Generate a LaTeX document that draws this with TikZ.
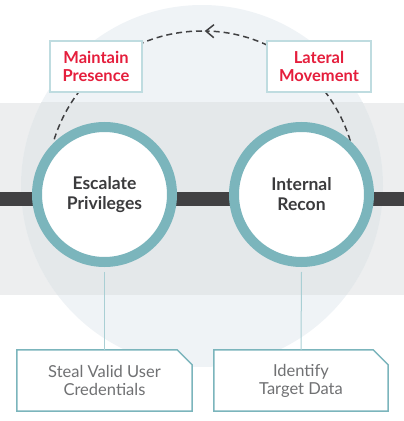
\documentclass[tikz,border=0pt]{standalone}
\usepackage{fontspec}
\setmainfont{Lato}
\usetikzlibrary{arrows.meta}

\definecolor{ringteal}{HTML}{7BB5BC}
\definecolor{haloblue}{HTML}{EFF3F6}
\definecolor{halomix}{HTML}{E4E8EA}
\definecolor{bandgray}{HTML}{EDEEEF}
\definecolor{bargray}{HTML}{414143}
\definecolor{tacticred}{HTML}{E51E3C}
\definecolor{darktext}{HTML}{3B3B3D}
\definecolor{softtext}{HTML}{707173}
\definecolor{paleedge}{HTML}{BFDCE0}
\definecolor{stemteal}{HTML}{A9CFD4}

\tikzset{
  phase/.style={circle, draw=ringteal, line width=10pt, fill=white,
    minimum size=135pt, inner sep=0pt, align=center, text=darktext,
    font=\fontsize{17.5}{20}\selectfont\bfseries},
  tactic/.style={rectangle, draw=paleedge, line width=1.2pt, fill=white,
    minimum height=51pt, inner sep=0pt, align=center, text=tacticred,
    font=\fontsize{16.5}{18}\selectfont\bfseries},
  action/.style={rectangle, minimum width=175pt, minimum height=61pt,
    inner sep=0pt, align=center, text=softtext,
    font=\fontsize{16.5}{18}\selectfont},
  tagline/.style={draw=ringteal, line width=1.5pt, fill=white, line join=miter},
  loop/.style={dash pattern=on 6pt off 4pt, line width=1.5pt, draw=bargray}
}

\begin{document}
\begin{tikzpicture}[x=1pt,y=1pt]
  \useasboundingbox (0,0) rectangle (404,421);
  \fill[bandgray] (0,126) rectangle (404,318);
  \fill[haloblue] (202,235) circle (181);
  \begin{scope}
    \clip (0,126) rectangle (404,318);
    \fill[halomix] (202,235) circle (181);
  \end{scope}
  \fill[bargray] (0,215) rectangle (404,229);

  \coordinate (hub) at (202,235);
  \draw[loop, -{Straight Barb[length=8pt,width=13pt]}] (hub) ++(17:155) arc (17:89:155);
  \draw[loop] (hub) ++(90:155) arc (90:163:155);

  \node[tactic, minimum width=92pt] (maintain) at (96,354.5) {Maintain\\Presence};
  \node[tactic, minimum width=104pt] (lateral) at (319,354.5) {Lateral\\Movement};

  \node[action] (steal) at (104.5,40.5) {};
  \node[action, minimum width=174pt] (identify) at (301,40.5) {};
  \foreach \n in {steal,identify}
    \draw[tagline] (\n.north west) -- ([xshift=-15pt]\n.north east)
      -- ([yshift=-15pt]\n.north east) -- (\n.south east) -- (\n.south west) -- cycle;
  \node[action] at (steal) {Steal Valid User\\Credentials};
  \node[action] at (identify) {Identify\\Target Data};

  \node[phase] (escalate) at (104.5,226.5) {Escalate\\Privileges};
  \node[phase] (recon) at (301.5,226.5) {Internal\\Recon};

  \draw[stemteal, line width=1pt] (escalate.south) ++(0,-5) -- (steal.north);
  \draw[stemteal, line width=1pt] (recon.south) ++(0,-5) -- (identify.north);
\end{tikzpicture}
\end{document}
